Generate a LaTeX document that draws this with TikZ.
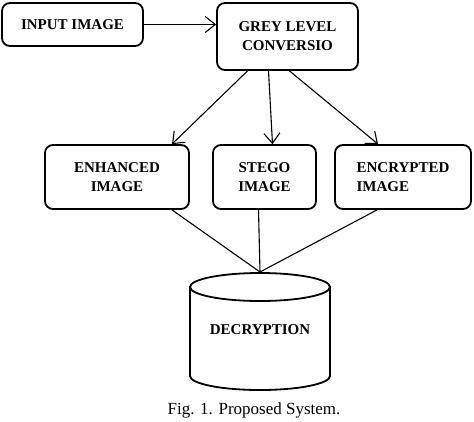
\documentclass[tikz,border=0pt]{standalone}
\usepackage{fontspec}
\setmainfont{Liberation Serif}
\usetikzlibrary{arrows.meta}
\begin{document}
\begin{tikzpicture}[x=1pt,y=-1pt,
  box/.style={draw,line width=1.8pt,rounded corners=8pt,align=center,font=\bfseries\fontsize{15}{19}\selectfont,inner sep=0pt},
  arr/.style={line width=1.1pt,-{Straight Barb[length=10pt,width=16pt,line width=1.1pt]}},
  ln/.style={line width=1.1pt}]
\useasboundingbox (0,0) rectangle (474,421);
\node[box,minimum width=141pt,minimum height=43pt] (inp) at (72.5,24.5) {INPUT IMAGE};
\node[box,minimum width=141pt,minimum height=67pt] (grey) at (287.5,36.5) {GREY LEVEL\\CONVERSIO};
\node[box,minimum width=144pt,minimum height=64pt] (enh) at (117,177) {ENHANCED\\IMAGE};
\node[box,minimum width=103pt,minimum height=64pt] (steg) at (264.5,177) {STEGO\\IMAGE};
\node[box,minimum width=136pt,minimum height=64pt,align=left] (enc) at (403,177) {ENCRYPTED\\IMAGE};
% cylinder
\draw[line width=1.8pt] (190,287) -- (190,376) arc[start angle=180,end angle=360,x radius=70,y radius=-14] -- (330,287);
\draw[line width=1.8pt] (260,287) ellipse[x radius=70,y radius=14];
\coordinate (cyl) at (260,272);
\node[font=\bfseries\fontsize{15}{18}\selectfont] (dec) at (260,330) {DECRYPTION};
\node[font=\fontsize{17}{20}\selectfont] (cap) at (254,410) {Fig. 1. Proposed System.};
% connectors
\draw[arr] (inp.east) -- (grey.west |- inp.east);
\draw[arr] ([xshift=-40pt]grey.south) -- ([xshift=55pt]enh.north);
\draw[arr] ([xshift=-19pt]grey.south) -- ([xshift=8pt]steg.north);
\draw[arr] ([xshift=2pt]grey.south) -- ([xshift=-25pt]enc.north);
\draw[ln] ([xshift=55pt]enh.south) -- (cyl);
\draw[ln] ([xshift=-6pt]steg.south) -- (cyl);
\draw[ln] ([xshift=-26pt]enc.south) -- (cyl);
\end{tikzpicture}
\end{document}
